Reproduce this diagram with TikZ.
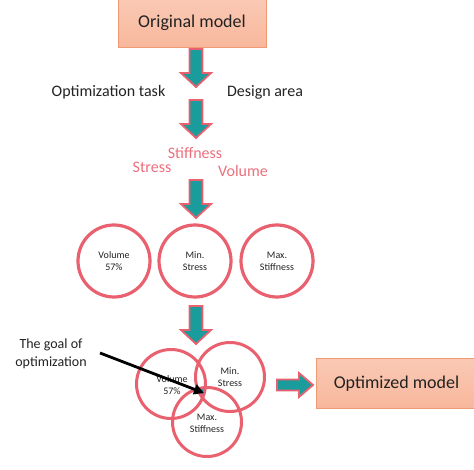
\documentclass[tikz,border=0pt]{standalone}
\usepackage{fontspec}
\setmainfont{Carlito}
\usepackage{xcolor}
\usetikzlibrary{shapes,arrows,positioning,calc,arrows.meta}

\definecolor{rosy}{HTML}{E9606F}
\definecolor{tealish}{HTML}{1B9C9C}
\definecolor{boxfill}{HTML}{F8B79C}
\definecolor{boxline}{HTML}{EE9A72}
\definecolor{goalblue}{HTML}{1F8DC4}
\definecolor{inkgray}{HTML}{222222}

\begin{document}
\begin{tikzpicture}[x=1pt,y=-1pt,
    modelbox/.style={draw=boxline, line width=1pt, top color=boxfill!75!white, bottom color=boxfill, font=\fontsize{18}{20}\selectfont, text=inkgray},
    fatline/.style={draw=rosy, line width=1.8pt, fill=tealish, line join=miter},
    darrow/.pic={\path[fatline] (-6.5,-19) -- (6.5,-19) -- (6.5,5) -- (15,5) -- (0,19) -- (-15,5) -- (-6.5,5) -- cycle;},
    rarrow/.pic={\path[fatline] (-18,-5.5) -- (4,-5.5) -- (4,-12) -- (18,0) -- (4,12) -- (4,5.5) -- (-18,5.5) -- cycle;},
    ring/.style={circle, draw=rosy, line width=3.2pt, minimum size=72pt, inner sep=0pt, align=center, font=\fontsize{10}{12}\selectfont, text=inkgray},
    vring/.style={circle, draw=rosy, line width=3pt, minimum size=69pt, inner sep=0pt},
    small/.style={font=\fontsize{10}{12}\selectfont, text=inkgray, align=center},
    plain/.style={font=\fontsize{16}{18}\selectfont, text=inkgray},
    pinkword/.style={font=\fontsize{16}{18}\selectfont, text=rosy!90!white}]
    \useasboundingbox (0,0) rectangle (474,470);

    % top box
    \node[modelbox, minimum width=148pt, minimum height=50pt] (orig) at (192,23) {Original model};
    \pic (a1) at (196,68) {darrow};

    \node[plain] (task) at (108.5,92) {Optimization task};
    \node[plain] (area) at (265,92) {Design area};
    \pic (a2) at (196,119) {darrow};

    % criteria
    \node[pinkword] (stiff) at (195,153) {Stiffness};
    \node[pinkword] (stress) at (152,167) {Stress};
    \node[pinkword] (volw) at (243,171) {Volume};
    \pic (a3) at (196,199) {darrow};

    % separate circles
    \node[ring] (vol) at (114,261) {Volume\\57\%};
    \node[ring] (minst) at (195,261) {Min.\\Stress};
    \node[ring] (maxst) at (277,261) {Max.\\Stiffness};
    \pic (a4) at (196,325) {darrow};

    % venn
    \coordinate (ca) at (171,384);
    \coordinate (cb) at (230,377);
    \coordinate (cc) at (207,422);
    \begin{scope}
        \clip (ca) circle (34.5);
        \clip (cb) circle (34.5);
        \fill[goalblue] (cc) circle (34.5);
    \end{scope}
    \node[vring] (va) at (ca) {};
    \node[vring] (vb) at (cb) {};
    \node[vring] (vc) at (cc) {};
    \node[small] (vatxt) at (172,385) {Volume\\57\%};
    \node[small] (vbtxt) at (230,377) {Min.\\Stress};
    \node[small] (vctxt) at (207,423) {Max.\\Stiffness};

    % goal label
    \node[font=\fontsize{14}{18}\selectfont, text=inkgray, align=center] (goal) at (51,354) {The goal of\\optimization};
    \coordinate (gstart) at (100,353);
    \coordinate (gend) at (204,393);
    \draw[line width=2.8pt, -{Triangle[length=10pt,width=10pt]}] (gstart) -- (gend);

    % result
    \pic (a5) at (295,385) {rarrow};
    \node[modelbox, minimum width=160pt, minimum height=49pt, anchor=west] (opt) at (316,383.5) {Optimized model};
\end{tikzpicture}
\end{document}
